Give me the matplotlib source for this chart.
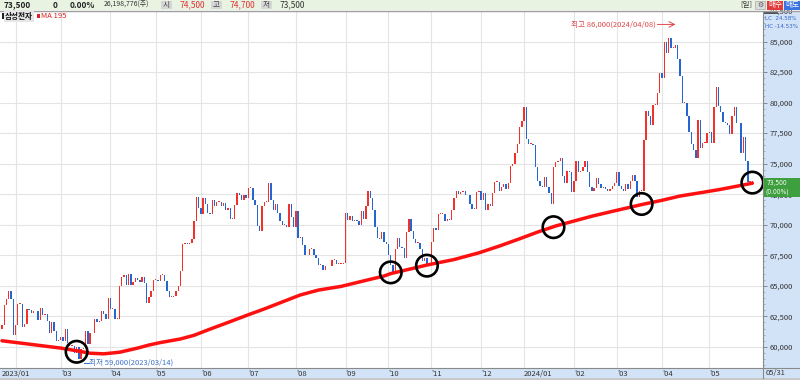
import matplotlib
matplotlib.use('Agg')
import matplotlib.pyplot as plt
from matplotlib.patches import Rectangle
import numpy as np

plt.rcParams['font.family'] = ['Noto Sans CJK KR', 'DejaVu Sans']
NUMFONT = dict(family=['DejaVu Sans', 'Noto Sans CJK KR'], stretch='condensed')

# ---------------- data (daily closes, KRW) ----------------
jan23 = [61800, 63400, 63900, 64600, 63900, 61000]
feb23 = [61800, 63500, 63500, 61600, 61900, 63100, 63000, 62800, 62900, 62900,
         62200, 63200, 62600, 62700, 62100, 61100, 62000, 61300, 60500, 60600]
mar23 = [60800, 60500, 61500, 60300, 60100, 60100, 59500, 60000, 59000, 59800, 59900,
         61300, 60200, 61100, 61100, 62300, 62000, 62100, 62900, 62700, 62300, 64000]
apr23 = [63100, 63100, 62300, 62300, 65000, 65700, 65900, 65100, 66000, 65100,
         65300, 65600, 65500, 65300, 65700, 65200, 63600, 64100, 64600, 65500]
may23 = [65500, 65400, 65900, 65900, 65400, 64600, 64100, 64100, 64200, 64600,
         65000, 66200, 68400, 68500, 68400, 68500, 68800, 70300, 72300, 71400]
jun23 = [70900, 72200, 71700, 71000, 70900, 72000, 71500, 71900, 71900, 71500, 71800,
         71200, 71400, 70500, 70500, 71600, 72600, 72400, 72000, 72400, 72200]
jul23 = [73000, 73000, 72000, 71600, 69900, 69500, 71500, 71900, 71900, 73400, 72000,
         71200, 71700, 71000, 70300, 70000, 70000, 69800, 71700, 70600, 69800]
aug23 = [71100, 68900, 69000, 68300, 67500, 67500, 68000, 68000, 67500, 67300, 66700,
         66700, 66300, 66600, 66600, 66600, 67100, 67100, 66800, 66800, 66800, 66900]
sep23 = [71000, 70400, 70700, 70300, 70400, 70300, 70000, 71100, 70500, 71500,
         72800, 72200, 71200, 69800, 68900, 68800, 69400, 68600, 68400]
oct23 = [67500, 66700, 66000, 68000, 68900, 68200, 68100, 67300, 69400, 70500,
         69500, 68800, 68500, 68500, 68000, 67000, 67300, 66700, 66900]
nov23 = [68600, 69700, 69600, 70900, 70900, 70900, 70300, 70500, 70400, 71200, 72200,
         72800, 72500, 72700, 72800, 72400, 72400, 71700, 71300, 71300, 72700, 72800]
dec23 = [72000, 72600, 71200, 71700, 71500, 72600, 73500, 73500, 72800, 73100,
         73300, 72900, 73400, 74800, 75000, 75900, 76600, 78000, 78500]
jan24 = [79600, 77000, 76600, 76600, 76500, 74700, 73600, 73200, 73100, 73900, 73100,
         72600, 71700, 74700, 75100, 75200, 75500, 74000, 73400, 74400, 74300, 72700]
feb24 = [73600, 75200, 74300, 74400, 74700, 75200, 74300, 73100, 72800, 73000,
         73800, 73300, 73000, 73100, 72900, 72800, 72900, 73200, 73400]
mar24 = [74300, 73200, 72900, 72800, 73300, 72900, 73600, 74100, 73600, 72300,
         72800, 72800, 76900, 79300, 78900, 78200, 79800, 79800, 80800, 82400]
apr24 = [82000, 85000, 84100, 85300, 84500, 84500, 84700, 83600, 82200, 80000, 80000,
         78900, 77600, 76600, 76100, 75500, 78600, 76300, 76700, 76700, 77500]
may24 = [77600, 76700, 79600, 81300, 79700, 79200, 78400, 78300, 78200, 77400,
         78900, 79600, 78300, 78300, 75900, 77200, 75200, 73500, 73500, 73500]

closes = (jan23 + feb23 + mar23 + apr23 + may23 + jun23 + jul23 + aug23 + sep23 +
          oct23 + nov23 + dec23 + jan24 + feb24 + mar24 + apr24 + may24)
first_open = 61500

# 195-day moving average, read at sparse trading-day positions
ma_idx = [0, 13, 26, 34, 39, 45, 52, 60, 65, 70, 79, 85, 92, 100, 110, 116, 125, 132,
          140, 150, 160, 169, 172, 180, 188, 200, 211, 220, 229, 237, 245, 253, 261,
          269, 276, 283, 292, 300, 310, 318, 325, 332]
ma_val = [60500, 60200, 59900, 59650, 59480, 59430, 59560, 59900, 60150, 60350, 60650,
          60950, 61450, 62000, 62700, 63100, 63750, 64250, 64650, 64950, 65400, 65800,
          66000, 66350, 66700, 67150, 67700, 68250, 68850, 69400, 69900, 70300, 70700,
          71050, 71350, 71650, 72000, 72350, 72650, 72900, 73150, 73400]

# circled touch points
circle_idx = [33, 172, 188, 244, 283, 332]
circle_val = [59600, 66100, 66650, 69800, 71700, 73450]

# month boundaries (trading-day index) and labels
month_idx = [0, 6, 26, 48, 68, 88, 109, 130, 152, 171, 190, 212, 231, 253, 272, 292, 313]
month_lab = ['2023/01', '', "'03", "'04", "'05", "'06", "'07", "'08", "'09", "'10",
             "'11", "'12", '2024/01', "'02", "'03", "'04", "'05"]

y_ticks = list(range(60000, 87501, 2500))

# ---------------- figure ----------------
W, H = 800, 380
fig = plt.figure(figsize=(W / 100, H / 100), dpi=100)
fig.patch.set_facecolor('white')

def fx(px):
    return px / W

def fy(py):
    return 1 - py / H

PANEL = '#d3e3f7'
plot_right = 763
plot_top = 11
plot_bot = 368

ax = fig.add_axes([0, fy(plot_bot), fx(plot_right), (plot_bot - plot_top) / H])
ax.set_facecolor('white')

n = len(closes)
opens = [first_open] + closes[:-1]
up_col = '#f2312b'
dn_col = '#2566d0'

for i in range(n):
    o, c = opens[i], closes[i]
    col = up_col if c >= o else dn_col
    lo, hi = min(o, c), max(o, c)
    if hi - lo < 60:
        hi = lo + 60
    ax.add_patch(Rectangle((i - 0.3, lo), 0.6, hi - lo, facecolor=col,
                           edgecolor='none', zorder=3))

ax.plot(ma_idx, ma_val, color='#ff1010', lw=2.5, zorder=4, solid_capstyle='round',
        solid_joinstyle='round')
ax.scatter(circle_idx, circle_val, s=240, facecolors='none', edgecolors='black',
           linewidths=1.9, zorder=5)

ax.set_xlim(-0.885, 336.7)
ax.set_ylim(58270, 87275)

# grid
for i in month_idx[1:]:
    ax.axvline(i, color='#e4e4e4', lw=0.8, zorder=1)
for v in y_ticks:
    ax.axhline(v, color='#e4e4e4', lw=0.8, zorder=1)

# right axis
ax.yaxis.tick_right()
ax.set_yticks(y_ticks)
ax.set_yticklabels([f'{v:,}' for v in y_ticks])
ax.set_yticks(list(range(58500, 87001, 500)), minor=True)
ax.tick_params(axis='y', which='major', direction='out', length=3, width=0.6,
               color='#777777', labelsize=5.5, labelcolor='#333333', pad=2)
ax.tick_params(axis='y', which='minor', direction='out', length=1.5, width=0.5,
               color='#999999')

# bottom labels
ax.set_xticks(month_idx)
ax.set_xticklabels(month_lab)
ax.tick_params(axis='x', length=0, labelsize=5.5, labelcolor='#333333', pad=1.5)
for lab in ax.get_xticklabels():
    lab.set_ha('left')

for s in ax.spines.values():
    s.set_visible(False)

# panels
fig.add_artist(Rectangle((fx(plot_right), fy(plot_bot)), fx(W - plot_right),
                         (plot_bot - plot_top) / H, transform=fig.transFigure,
                         facecolor=PANEL, edgecolor='none', zorder=-1))
fig.add_artist(Rectangle((0, fy(378)), 1, 10 / H, transform=fig.transFigure,
                         facecolor=PANEL, edgecolor='none', zorder=-1))
fig.add_artist(Rectangle((0, 0), 1, 2 / H, transform=fig.transFigure,
                         facecolor='#c8c8c8', edgecolor='none', zorder=-1))
fig.add_artist(plt.Line2D([0, 1], [fy(plot_bot), fy(plot_bot)], transform=fig.transFigure,
                          color='#8a8a8a', lw=0.8))
fig.add_artist(plt.Line2D([fx(plot_right), fx(plot_right)], [fy(378), fy(plot_top)],
                          transform=fig.transFigure, color='#8a8a8a', lw=0.8))
fig.text(fx(766), fy(373.5), '05/31', fontsize=5.5, color='#333333', va='center')

# top bar
fig.add_artist(Rectangle((0, fy(10)), 1, 10 / H, transform=fig.transFigure,
                         facecolor='#e9f3e2', edgecolor='none', zorder=-1))
fig.add_artist(plt.Line2D([0, 1], [fy(10.5), fy(10.5)], transform=fig.transFigure,
                          color='#a0a0a0', lw=1))
ty = fy(5)
fig.text(fx(4), ty, '73,500', fontsize=6, weight='bold', color='#222222', va='center')
fig.text(fx(53), ty, '0', fontsize=6, weight='bold', color='#222222', va='center')
fig.text(fx(70), ty, '0.00%', fontsize=6, weight='bold', color='#222222', va='center')
fig.text(fx(104), ty, '26,198,776(주)', fontsize=5, color='#333333', va='center')
for bx, lab, val, vc in [(161, '시', '74,500', '#e03030'), (211, '고', '74,700', '#e03030'),
                         (261, '저', '73,500', '#333333')]:
    fig.add_artist(Rectangle((fx(bx), fy(9)), fx(11), 8 / H, transform=fig.transFigure,
                             facecolor='#d6d6d6', edgecolor='none'))
    fig.text(fx(bx + 5.5), ty, lab, fontsize=5.5, color='#444444', va='center', ha='center')
    fig.text(fx(bx + 19), ty, val, fontsize=6, color=vc, va='center')
fig.text(fx(740), ty, '[일]', fontsize=5.5, color='#333333', va='center')
fig.add_artist(Rectangle((fx(755), fy(9)), fx(10), 8 / H, transform=fig.transFigure,
                         facecolor='#dcdcdc', edgecolor='#aaaaaa', lw=0.5))
fig.text(fx(760), ty, '⚙', fontsize=5, color='#555555', va='center', ha='center',
         family=['DejaVu Sans'])
fig.add_artist(Rectangle((fx(767), fy(9.5)), fx(16), 9 / H, transform=fig.transFigure,
                         facecolor='#e23a3a', edgecolor='none'))
fig.text(fx(775), ty, '매수', fontsize=5.5, color='white', va='center', ha='center')
fig.add_artist(Rectangle((fx(784), fy(9.5)), fx(16), 9 / H, transform=fig.transFigure,
                         facecolor='#3a72e0', edgecolor='none'))
fig.text(fx(792), ty, '매도', fontsize=5.5, color='white', va='center', ha='center')

# legend top-left
fig.text(fx(5), fy(16), '삼성전자', fontsize=5.5, weight='bold', color='#111111', va='center',
         bbox=dict(boxstyle='square,pad=0.15', facecolor='#e6e6e6', edgecolor='none'))
fig.add_artist(Rectangle((fx(2), fy(19)), fx(1.5), 6 / H, transform=fig.transFigure,
                         facecolor='#222222', edgecolor='none'))
fig.add_artist(Rectangle((fx(37), fy(18)), fx(2.5), 4 / H, transform=fig.transFigure,
                         facecolor='#e02020', edgecolor='none'))
fig.text(fx(41), fy(16), 'MA 195', fontsize=5.5, color='#e02020', va='center')

# top-right info box
fig.add_artist(Rectangle((fx(764), fy(14)), fx(14), 3 / H, transform=fig.transFigure,
                         facecolor='#555555', edgecolor='none'))
fig.text(fx(765), fy(19), 'LC  24.58%', fontsize=4.5, color='#3366cc', va='center',
         **NUMFONT)
fig.text(fx(765), fy(26.5), 'HC -14.53%', fontsize=4.5, color='#3366cc', va='center',
         **NUMFONT)

# current price tag
fig.add_artist(Rectangle((fx(764), fy(197)), fx(36), 19 / H, transform=fig.transFigure,
                         facecolor='#3d9f3d', edgecolor='none', zorder=3))
fig.text(fx(767), fy(182.5), '73,500', fontsize=4.8, color='white', va='center', zorder=4,
         **NUMFONT)
fig.text(fx(766), fy(191.5), '(0.00%)', fontsize=4.8, color='white', va='center', zorder=4,
         **NUMFONT)

# annotations
ax.annotate('', xy=(298, 86400), xytext=(290, 86400),
            arrowprops=dict(arrowstyle='->', color='#e04848', lw=0.7,
                            shrinkA=0, shrinkB=0), zorder=6)
ax.text(289.5, 86400, '최고 86,000(2024/04/08)', fontsize=5.5, color='#e04848',
        va='center', ha='right', zorder=6)
ax.plot([36.5, 38.3], [58700, 58700], color='#3f73c8', lw=0.8, zorder=6)
ax.text(38.5, 58700, '최저 59,000(2023/03/14)', fontsize=5.5, color='#3f73c8',
        va='center', ha='left', zorder=6)

fig.savefig('out.png', dpi=100)
